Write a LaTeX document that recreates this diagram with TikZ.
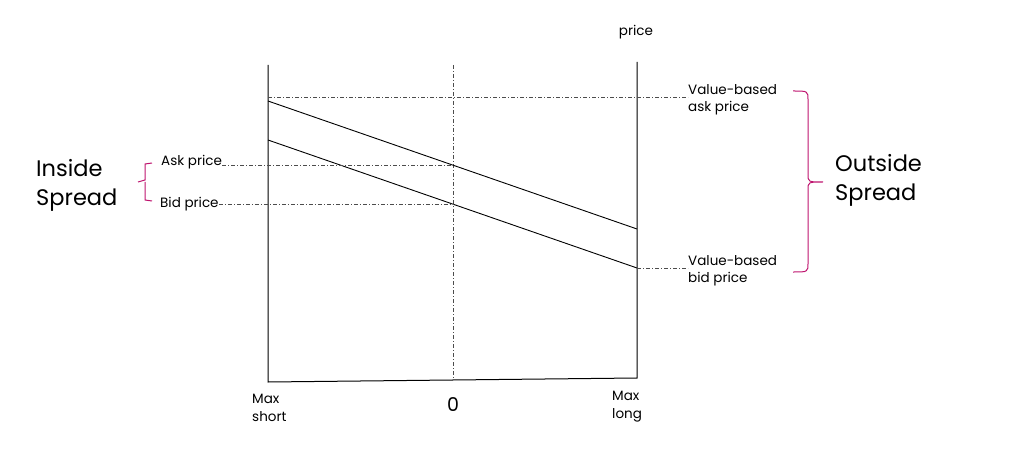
\documentclass[tikz,border=0pt]{standalone}
\usepackage{fontspec}
\setmainfont{Poppins}
\usetikzlibrary{positioning}
\definecolor{spreadcol}{RGB}{190,20,110}
\tikzset{
  axis/.style={line width=1pt},
  guide/.style={line width=0.8pt, black!70, dash pattern=on 4pt off 2pt on 1pt off 2pt},
  brace/.style={line width=1pt, spreadcol},
  lbl/.style={font=\fontsize{13.5}{17.5}\selectfont, align=left, inner sep=0pt},
  big/.style={font=\fontsize{22.5}{29}\selectfont, align=left, inner sep=0pt}
}
\begin{document}
\begin{tikzpicture}[x=1pt, y=-1pt]
  \useasboundingbox (0,0) rectangle (1030,465);

  %% axes
  \coordinate (sTop) at (268,65);
  \coordinate (sBot) at (268,382);
  \coordinate (lTop) at (637,62);
  \coordinate (lBot) at (637,378);
  \coordinate (zTop) at (453,65);
  \coordinate (zBot) at (453,380);
  \draw[axis] (sTop) -- (sBot) -- (lBot) -- (lTop);
  \draw[guide] (zTop) -- (zBot);

  %% ask and bid lines
  \coordinate (askL) at (268,101);
  \coordinate (askR) at (637,229);
  \coordinate (bidL) at (268,140);
  \coordinate (bidR) at (637,268);
  \draw[line width=0.9pt] (askL) -- (askR);
  \draw[line width=0.9pt] (bidL) -- (bidR);

  %% labels
  \node[lbl, anchor=south] (price) at (636,39) {price};
  \node[lbl, anchor=west] (vAsk) at (688,100) {Value-based\\ask price};
  \node[lbl, anchor=west] (vBid) at (688,271) {Value-based\\bid price};
  \node[lbl, anchor=west] (ask) at (161,162) {Ask price};
  \node[lbl, anchor=west] (bid) at (160,204) {Bid price};
  \node[lbl, anchor=north west] (mShort) at (252,394) {Max\\short};
  \node[lbl, anchor=north west] (mLong) at (612,391) {Max\\long};
  \node[font=\fontsize{19}{21}\selectfont, inner sep=0pt] (zero) at (453,405) {0};
  \node[big, anchor=west] (inside) at (36,185) {Inside\\Spread};
  \node[big, anchor=west] (outside) at (835,180) {Outside\\Spread};

  %% guide lines
  \coordinate (askM) at (453,165);
  \coordinate (bidM) at (453,204);
  \draw[guide] (sTop |- 0,97) -- (vAsk.west |- 0,97);
  \draw[guide] (ask.east |- askM) -- (askM);
  \draw[guide] (bid.east) -- (bidM);
  \draw[guide] (bidR) -- (vBid.west |- bidR);

  %% braces
  \draw[brace] (152,163) -- (145,164) -- (145,180) -- (138,182)
    (145,182) -- (145,200) -- (152,201);
  \draw[brace] (793,91) .. controls (808,91) .. (808,100) -- (808,174)
    .. controls (808,182) .. (823,182) .. controls (808,182) .. (808,190)
    -- (808,263) .. controls (808,272) .. (793,272);
\end{tikzpicture}
\end{document}
